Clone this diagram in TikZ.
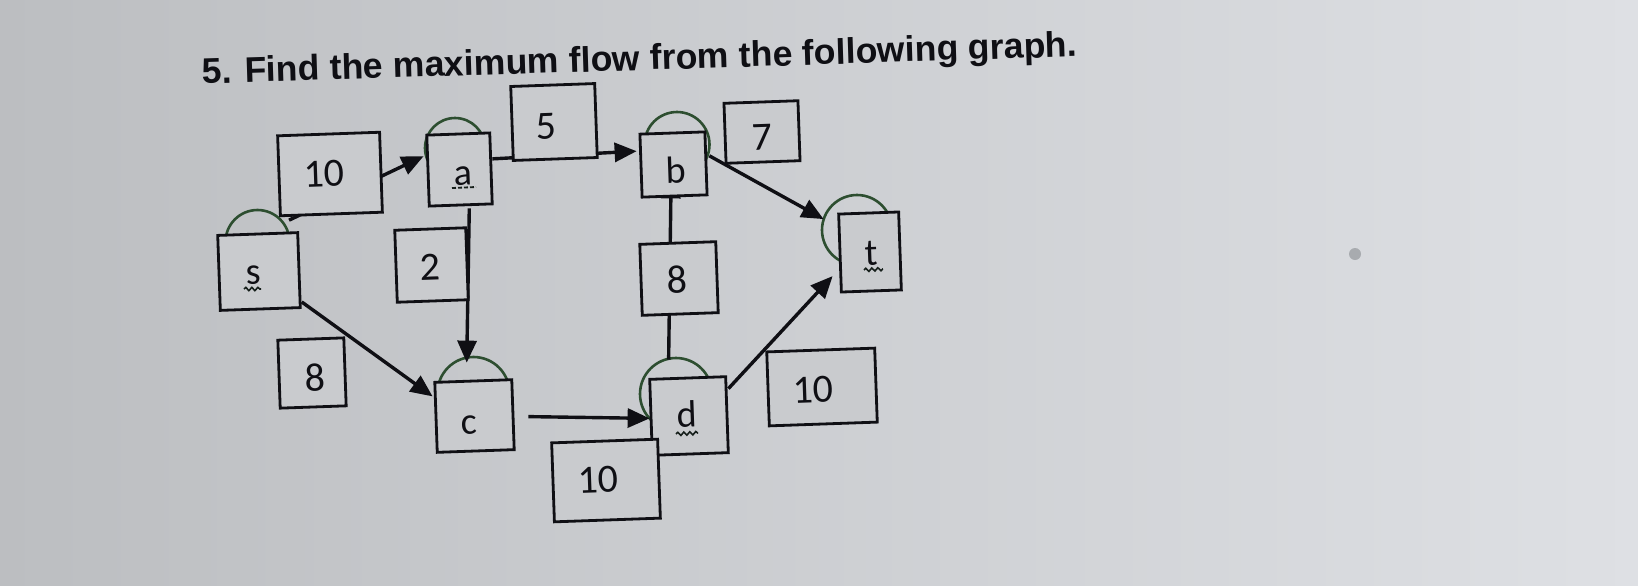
\documentclass[tikz,border=0pt]{standalone}
\usepackage{fontspec}
\setmainfont{Carlito}
\newfontfamily\titlefont{Liberation Sans}
\usetikzlibrary{arrows.meta,calc,decorations.pathmorphing}
\definecolor{bgL}{RGB}{188,190,193}
\definecolor{bgR}{RGB}{222,224,228}
\definecolor{boxfill}{RGB}{201,203,206}
\definecolor{arcgreen}{RGB}{45,78,48}
\definecolor{ink}{RGB}{15,15,20}
\definecolor{dotgray}{RGB}{168,171,175}
\pgfdeclarelayer{back}
\pgfdeclarelayer{edgelayer}
\pgfsetlayers{back,edgelayer,main}
\begin{document}
\begin{tikzpicture}[x=0.5pt,y=-0.5pt,
  box/.style={draw=ink,line width=1.4pt,fill=boxfill,inner sep=0pt,rotate=2},
  circ/.style={draw=arcgreen,line width=1.3pt},
  edge/.style={draw=ink,line width=1.7pt,-{Triangle[length=11pt,width=9.5pt]}},
  numtext/.style={font=\fontsize{20}{20}\selectfont,text=ink,inner sep=0pt,rotate=2},
  nodeletter/.style={font=\fontsize{19}{19}\selectfont,text=ink,inner sep=0pt,rotate=2},
  squig/.style={draw=ink!75!arcgreen,line width=0.8pt,decorate,decoration={snake,amplitude=0.8pt,segment length=3pt}},
]
\begin{pgfonlayer}{back}
  \shade[left color=bgL,right color=bgR] (0,0) rectangle (1638,585);
  \fill[dotgray] (1355,254) circle[radius=6];
  % node circles (partly hidden behind the boxes)
  \draw[circ] (257.5,242) circle[radius=32];
  \draw[circ] (455,148) circle[radius=30];
  \draw[circ] (677,144.5) circle[radius=32.5];
  \draw[circ] (473.5,393) circle[radius=36];
  \draw[circ] (676,394) circle[radius=36];
  \draw[circ] (857,230) circle[radius=35];
\end{pgfonlayer}
\useasboundingbox (0,0) rectangle (1638,585);

% title
\node[anchor=base west,rotate=1.8,inner sep=0pt,text=ink,
      font=\titlefont\bfseries\fontsize{17.8}{18}\selectfont] (title) at (202,84)
      {5. Find the maximum flow from the following graph.};

% vertex boxes
\node[box,minimum width=40pt,minimum height=37.5pt] (s) at (259,271.5) {};
\node[box,minimum width=31.5pt,minimum height=35.5pt] (a) at (459.5,169.5) {};
\node[box,minimum width=32.5pt,minimum height=31.5pt] (b) at (673.5,164.5) {};
\node[box,minimum width=38.5pt,minimum height=35pt] (c) at (474.5,416) {};
\node[box,minimum width=38pt,minimum height=38pt] (d) at (689,416) {};
\node[box,minimum width=30pt,minimum height=39pt] (t) at (870,252) {};

% capacity boxes
\node[box,minimum width=51pt,minimum height=40pt] (w10a) at (330,174) {};
\node[box,minimum width=42pt,minimum height=37pt] (w5) at (554,122) {};
\node[box,minimum width=37pt,minimum height=30pt] (w7) at (762,132) {};
\node[box,minimum width=35.5pt,minimum height=36pt] (w2) at (431.5,265) {};
\node[box,minimum width=38pt,minimum height=35.5pt] (w8b) at (679,278.5) {};
\node[box,minimum width=33pt,minimum height=34pt] (w8s) at (312,373) {};
\node[box,minimum width=53pt,minimum height=39.5pt] (w10c) at (606,480.5) {};
\node[box,minimum width=54pt,minimum height=37pt] (w10t) at (822,387) {};

% vertex letters
\node[nodeletter] (s-l) at (253.5,275.5) {s};
\node[nodeletter] (a-l) at (463,176) {a};
\node[nodeletter] (b-l) at (676,170) {b};
\node[nodeletter] (c-l) at (469.5,425.5) {c};
\node[nodeletter] (d-l) at (687,414) {d};
\node[nodeletter] (t-l) at (871.5,253.5) {t};

% spell-check underlines
\draw[squig] (244,289) -- (261,289);
\draw[draw=ink!75!arcgreen,line width=0.9pt,dash pattern=on 2pt off 1pt] (452,188) -- (476,187);
\draw[squig] (676,434) -- (698,433);
\draw[squig] (864,270) -- (883,269);

% capacities
\node[numtext] (n10a) at (324.5,173.5) {10};
\node[numtext] (n5) at (546,126) {5};
\node[numtext] (n7) at (762,137) {7};
\node[numtext] (n2) at (430.5,267) {2};
\node[numtext] (n8b) at (677,280) {8};
\node[numtext] (n8s) at (315,378) {8};
\node[numtext] (n10c) at (598,480) {10};
\node[numtext] (n10t) at (813,390) {10};

% connectors (behind the boxes)
\begin{pgfonlayer}{edgelayer}
  \draw[edge] ($(s.north east)+(-10,-11)$) -- ($(a.west)+(-3,-14.5)$);
  \draw[edge] ($(a.east)+(0,-9.5)$) -- ($(b.west)+(-3,-14.5)$);
  \draw[edge] ($(a.south)+(8.5,2)$) -- ($(c.north)+(-6.5,-17)$);
  \draw[edge] ($(d.north)+(-19,-17)$) -- ($(b.south)+(-3.5,-21)$);
  \draw[edge] ($(s.south east)+(0,-7)$) -- ($(c.west)+(-2,-21)$);
  \draw[edge] ($(c.east)+(14,2)$) -- ($(d.west)+(0,1)$);
  \draw[edge] ($(d.east)+(0,-26)$) -- ($(t.west)+(-6,23)$);
  \draw[edge] ($(b.east)+(2,-7.5)$) -- ($(t.west)+(-15,-34)$);
\end{pgfonlayer}
\end{tikzpicture}
\end{document}
